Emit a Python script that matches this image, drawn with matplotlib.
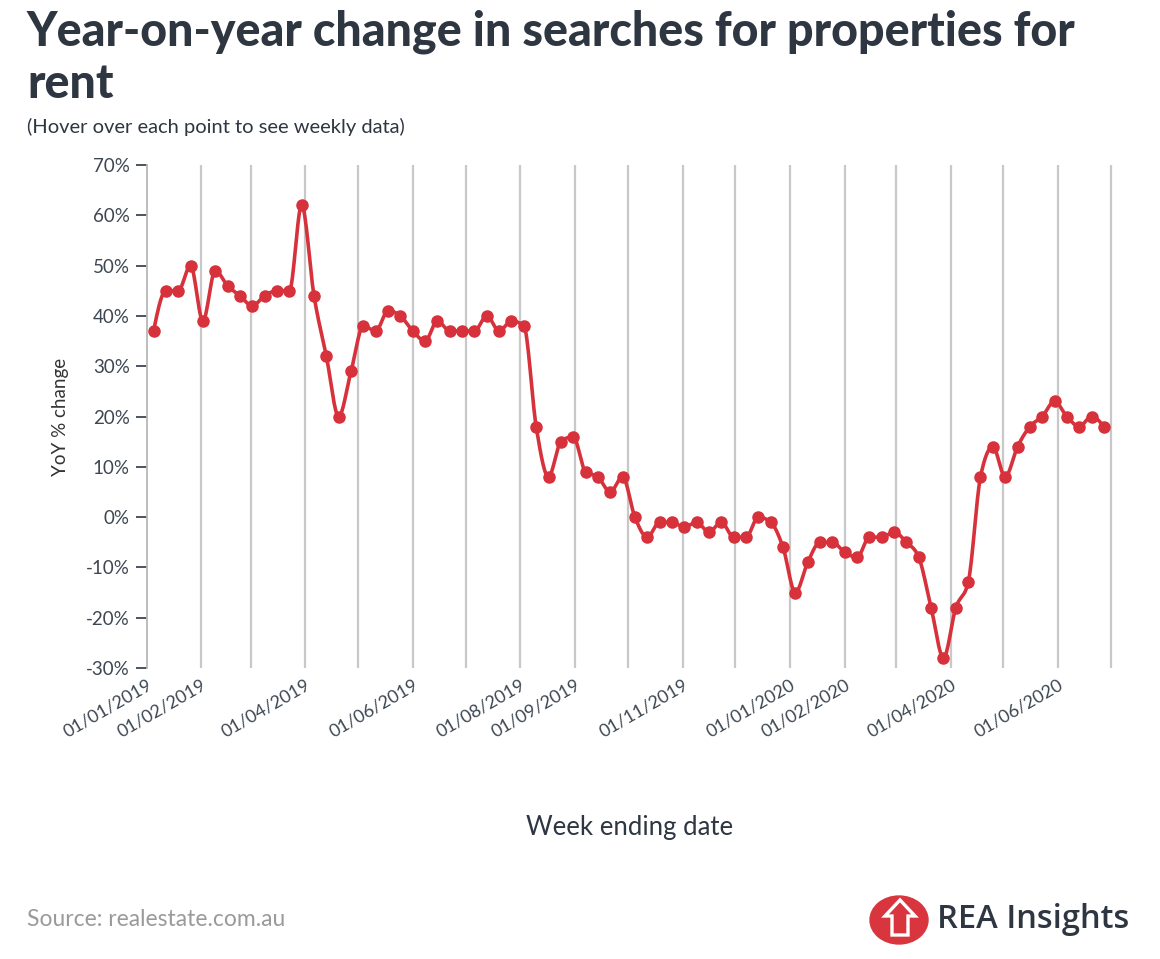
import numpy as np
import pandas as pd
import matplotlib
matplotlib.use('Agg')
import matplotlib.pyplot as plt
from matplotlib.patches import Circle, Polygon

# weekly YoY % change in rental searches
yoy_change = [37, 45, 45, 50, 39, 49, 46, 44, 42, 44, 45, 45, 62, 44, 32, 20,
              29, 38, 37, 41, 40, 37, 35, 39, 37, 37, 37, 40, 37, 39, 38, 18,
              8, 15, 16, 9, 8, 5, 8, 0, -4, -1, -1, -2, -1, -3, -1, -4,
              -4, 0, -1, -6, -15, -9, -5, -5, -7, -8, -4, -4, -3, -5, -8, -18,
              -28, -18, -13, 8, 14, 8, 14, 18, 20, 23, 20, 18, 20, 18]
week_ending = pd.date_range('2019-01-05', periods=len(yoy_change), freq='7D')

month_ticks = pd.date_range('2019-01-01', '2020-07-01', freq='MS')
tick_labels = ['01/01/2019', '01/02/2019', '', '01/04/2019', '', '01/06/2019', '',
               '01/08/2019', '01/09/2019', '', '01/11/2019', '', '01/01/2020',
               '01/02/2020', '', '01/04/2020', '', '01/06/2020', '']
y_ticks = [-30, -20, -10, 0, 10, 20, 30, 40, 50, 60, 70]

RED = '#d7313b'
DARK = '#2e3641'
TXT = '#3d4752'

plt.rcParams['font.family'] = ['Lato', 'DejaVu Sans']


def monotone_curve(x, y, steps=16):
    # same idea as d3.curveMonotoneX, only for drawing the line
    x = np.asarray(x, float)
    y = np.asarray(y, float)
    h = np.diff(x)
    s = np.diff(y) / h
    m = np.zeros_like(y)
    for i in range(1, len(y) - 1):
        p = (s[i - 1] * h[i] + s[i] * h[i - 1]) / (h[i - 1] + h[i])
        m[i] = (np.sign(s[i - 1]) + np.sign(s[i])) * min(abs(s[i - 1]), abs(s[i]), 0.5 * abs(p))
    m[0] = (3 * s[0] - m[1]) / 2
    m[-1] = (3 * s[-1] - m[-2]) / 2
    xs, ys = [], []
    t = np.linspace(0, 1, steps, endpoint=False)
    for i in range(len(h)):
        h00 = 2 * t**3 - 3 * t**2 + 1
        h10 = t**3 - 2 * t**2 + t
        h01 = -2 * t**3 + 3 * t**2
        h11 = t**3 - t**2
        xs.append(x[i] + t * h[i])
        ys.append(h00 * y[i] + h10 * h[i] * m[i] + h01 * y[i + 1] + h11 * h[i] * m[i + 1])
    xs.append([x[-1]])
    ys.append([y[-1]])
    return np.concatenate(xs), np.concatenate(ys)


fig = plt.figure(figsize=(11.6, 9.59), dpi=100)
ax = fig.add_axes([146.5 / 1160, 1 - 668 / 959, 968 / 1160, 503 / 959])

xnum = matplotlib.dates.date2num(week_ending)
cx, cy = monotone_curve(xnum, yoy_change)
ax.plot(cx, cy, color=RED, lw=2.6, solid_capstyle='round', zorder=3)
ax.plot(xnum, yoy_change, 'o', color=RED, ms=8, zorder=4)

ax.set_xlim(pd.Timestamp('2019-01-01'), pd.Timestamp('2020-07-03'))
ax.set_ylim(-30, 70)
ax.set_xticks(month_ticks)
ax.set_xticklabels(tick_labels, rotation=30, ha='right', rotation_mode='anchor',
                   fontsize=13, color=TXT)
ax.set_yticks(y_ticks)
ax.set_yticklabels([f'{v}%' for v in y_ticks], fontsize=13.5, color=TXT)
ax.tick_params(axis='x', length=0, pad=6)
ax.tick_params(axis='y', length=8, width=1.3, color=TXT, pad=4)
ax.grid(axis='x', color='#c8c8c8', lw=1.6, zorder=0)
for side in ['top', 'right', 'bottom']:
    ax.spines[side].set_visible(False)
ax.spines['left'].set_color('#b8b8b8')
ax.spines['left'].set_linewidth(1.3)
ax.set_ylabel('YoY % change', fontsize=13.5, color='#333333', labelpad=12)

fig.text(27 / 1160, 1 - 45 / 959, 'Year-on-year change in searches for properties for',
         fontsize=33.5, fontweight='black', color=DARK, va='baseline')
fig.text(27 / 1160, 1 - 98 / 959, 'rent',
         fontsize=33.5, fontweight='black', color=DARK, va='baseline')
fig.text(27 / 1160, 1 - 127 / 959, '(Hover over each point to see weekly data)',
         fontsize=14.5, color=DARK, va='center')
fig.text(630 / 1160, 1 - 828 / 959, 'Week ending date', fontsize=18.5, color=DARK,
         ha='center', va='center')
fig.text(27 / 1160, 1 - 919 / 959, 'Source: realestate.com.au', fontsize=16.5,
         color='#9a9a9a', va='center')

# logo
def fx(px):
    return px / 1160


def fy(py):
    return 1 - py / 959


fig.patches.append(Circle((fx(899), fy(920)), 29 / 1160, transform=fig.transFigure,
                          color='#d9353f', zorder=5))
house = [(900, 900), (915, 916), (908, 916), (908, 935), (892, 935), (892, 916), (885, 916)]
fig.patches.append(Polygon([(fx(a), fy(b)) for a, b in house], closed=True,
                           transform=fig.transFigure, fill=False, edgecolor='white',
                           lw=2.4, joinstyle='miter', zorder=6))
fig.text(fx(937), fy(920), 'REA Insights', fontsize=23.5, fontweight='semibold',
         color=DARK, va='center', family=['Open Sans', 'DejaVu Sans'])

fig.savefig('out.png', dpi=100)
